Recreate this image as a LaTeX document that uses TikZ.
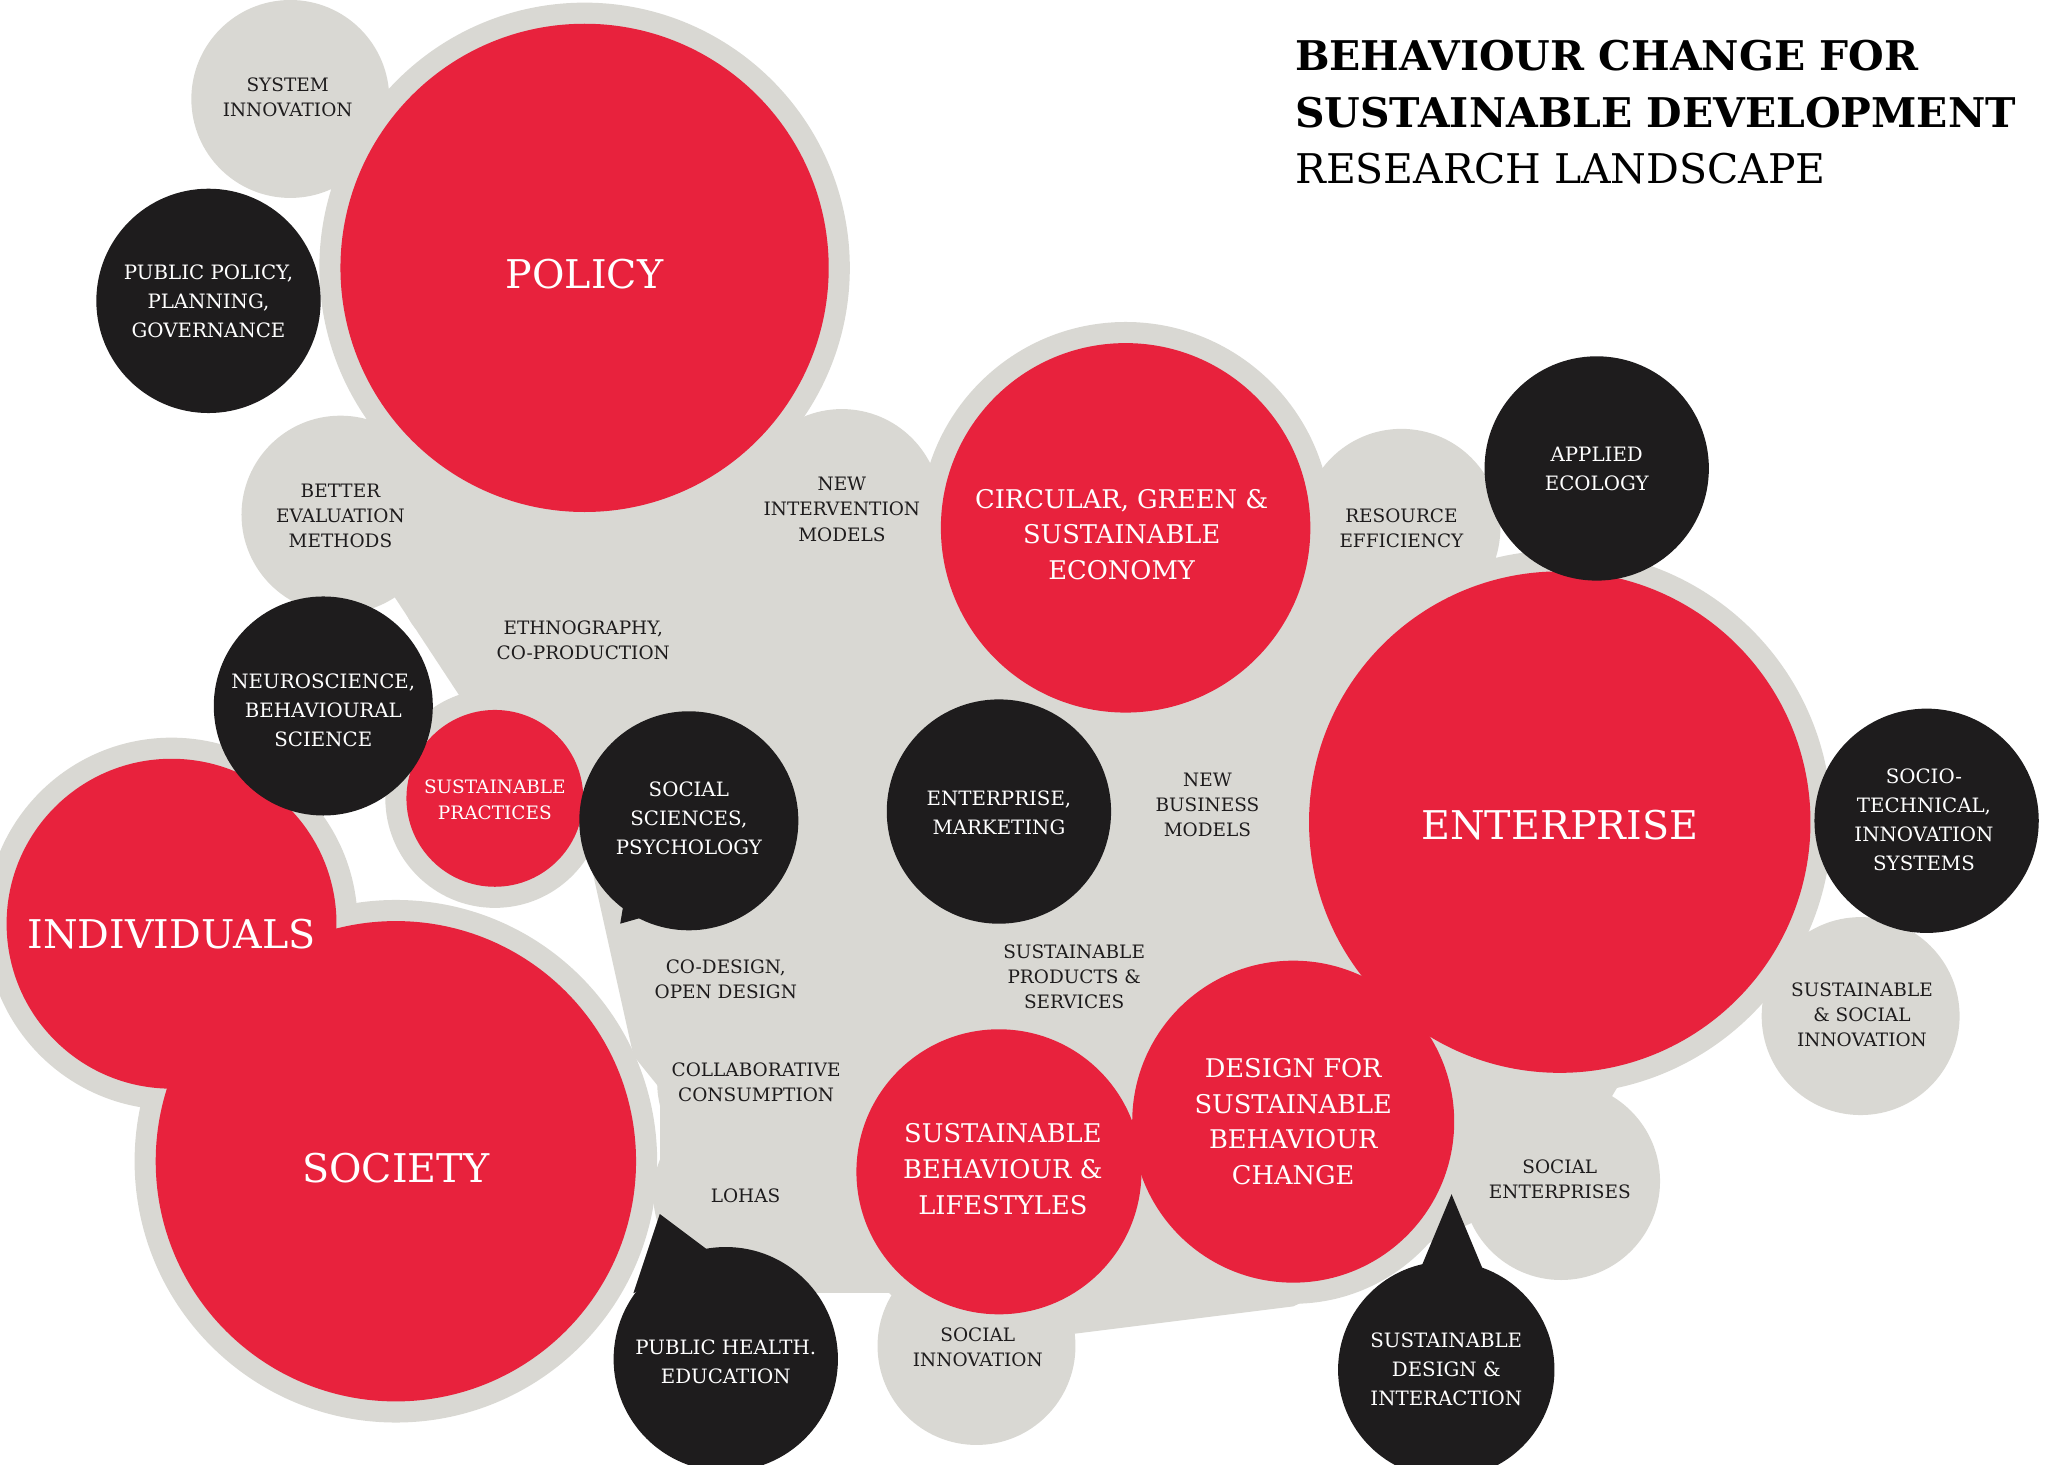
\documentclass[tikz,border=0pt]{standalone}
\usepackage{fontspec}
\setmainfont{DejaVu Serif}
\definecolor{rd}{HTML}{E8223D}
\definecolor{bk}{HTML}{1E1C1D}
\definecolor{gy}{HTML}{D9D8D3}
\begin{document}
\begin{tikzpicture}[x=1pt,y=-1pt,
 lab/.style={align=center,font=\fontsize{14}{19}\selectfont,text=bk},
 wlab/.style={align=center,font=\fontsize{15}{22}\selectfont,text=white},
 rlab/.style={align=center,font=\fontsize{19.5}{27}\selectfont,text=white},
 big/.style={align=center,font=\fontsize{30}{36}\selectfont,text=white}]
\useasboundingbox (0,0) rectangle (1552,1110);
% grey background
\fill[gy] (258,390)--(443,300)--(638,385)--(853,300)--(1062,400)--(1182,450)--(1300,700)--(1183,895)--(980,990)--(740,1020)--(565,905)--(480,800)--(440,620)--(350,530)--cycle;
\fill[gy] (500,700) rectangle (980,980);
\foreach \x/\y/\r in {443/203/185,853/400/140,1182/623/190,375/605/67,130/700/125,300/880/182,757/888/108,980/850/122}
  \fill[gy] (\x,\y) circle (\r+16);
\foreach \x/\y/\r in {220/75/75,258/390/75,638/385/75,442/485/75,1062/400/75,915/610/75,550/740/70,814/740/70,573/820/75,565/905/70,740/1020/75,1410/770/75,1183/895/75,700/720/40,345/450/40}
  \fill[gy] (\x,\y) circle (\r);
% red
\foreach \n/\x/\y/\r in {pol/443/203/185,cir/853/400/140,ent/1182/623/190,sp/375/605/67,ind/130/700/125,soc/300/880/182,sbl/757/888/108,dsb/980/850/122}
  \fill[rd] (\x,\y) circle (\r) coordinate (\n);
% black
\foreach \x/\y/\r in {158/228/85,245/535/83,522/622/83,757/615/85,1210/355/85,1460/622/85,550/1030/85,1096/1038/82}
  \fill[bk] (\x,\y) circle (\r);
\fill[bk] (470,700)--(505,690)--(480,640)--cycle;
\fill[bk] (1100,905)--(1075,965)--(1125,965)--cycle;
\fill[bk] (500,920)--(480,980)--(540,950)--cycle;
% title
\node[anchor=west,align=left,font=\bfseries\fontsize{31}{43}\selectfont] (title) at (978,85) {BEHAVIOUR CHANGE FOR\\SUSTAINABLE DEVELOPMENT\\\mdseries RESEARCH LANDSCAPE};
% red labels
\node[big] (tpol) at (443,208) {POLICY};
\node[big] (tent) at (1182,625) {ENTERPRISE};
\node[big] (tind) at (130,708) {INDIVIDUALS};
\node[big] (tsoc) at (300,885) {SOCIETY};
\node[rlab] (tcir) at (850,405) {CIRCULAR, GREEN \&\\SUSTAINABLE\\ECONOMY};
\node[rlab] (tsbl) at (760,886) {SUSTAINABLE\\BEHAVIOUR \&\\LIFESTYLES};
\node[rlab] (tdsb) at (980,850) {DESIGN FOR\\SUSTAINABLE\\BEHAVIOUR\\CHANGE};
\node[align=center,text=white,font=\fontsize{14}{20}\selectfont] (tsp) at (375,606) {SUSTAINABLE\\PRACTICES};
% black labels
\node[wlab] (b1) at (158,228) {PUBLIC POLICY,\\PLANNING,\\GOVERNANCE};
\node[wlab] (b2) at (245,538) {NEUROSCIENCE,\\BEHAVIOURAL\\SCIENCE};
\node[wlab] (b3) at (522,620) {SOCIAL\\SCIENCES,\\PSYCHOLOGY};
\node[wlab] (b4) at (757,616) {ENTERPRISE,\\MARKETING};
\node[wlab] (b5) at (1210,355) {APPLIED\\ECOLOGY};
\node[wlab] (b6) at (1458,621) {SOCIO-\\TECHNICAL,\\INNOVATION\\SYSTEMS};
\node[wlab] (b7) at (550,1032) {PUBLIC HEALTH.\\EDUCATION};
\node[wlab] (b8) at (1096,1038) {SUSTAINABLE\\DESIGN \&\\INTERACTION};
% grey labels
\node[lab] (g1) at (218,74) {SYSTEM\\INNOVATION};
\node[lab] (g2) at (258,391) {BETTER\\EVALUATION\\METHODS};
\node[lab] (g3) at (638,386) {NEW\\INTERVENTION\\MODELS};
\node[lab] (g4) at (442,485) {ETHNOGRAPHY,\\CO-PRODUCTION};
\node[lab] (g5) at (1062,400) {RESOURCE\\EFFICIENCY};
\node[lab] (g6) at (915,610) {NEW\\BUSINESS\\MODELS};
\node[lab] (g7) at (550,742) {CO-DESIGN,\\OPEN DESIGN};
\node[lab] (g8) at (814,740) {SUSTAINABLE\\PRODUCTS \&\\SERVICES};
\node[lab] (g9) at (573,820) {COLLABORATIVE\\CONSUMPTION};
\node[lab] (g10) at (565,906) {LOHAS};
\node[lab] (g11) at (741,1021) {SOCIAL\\INNOVATION};
\node[lab] (g12) at (1411,769) {SUSTAINABLE\\\& SOCIAL\\INNOVATION};
\node[lab] (g13) at (1182,894) {SOCIAL\\ENTERPRISES};
\end{tikzpicture}
\end{document}
